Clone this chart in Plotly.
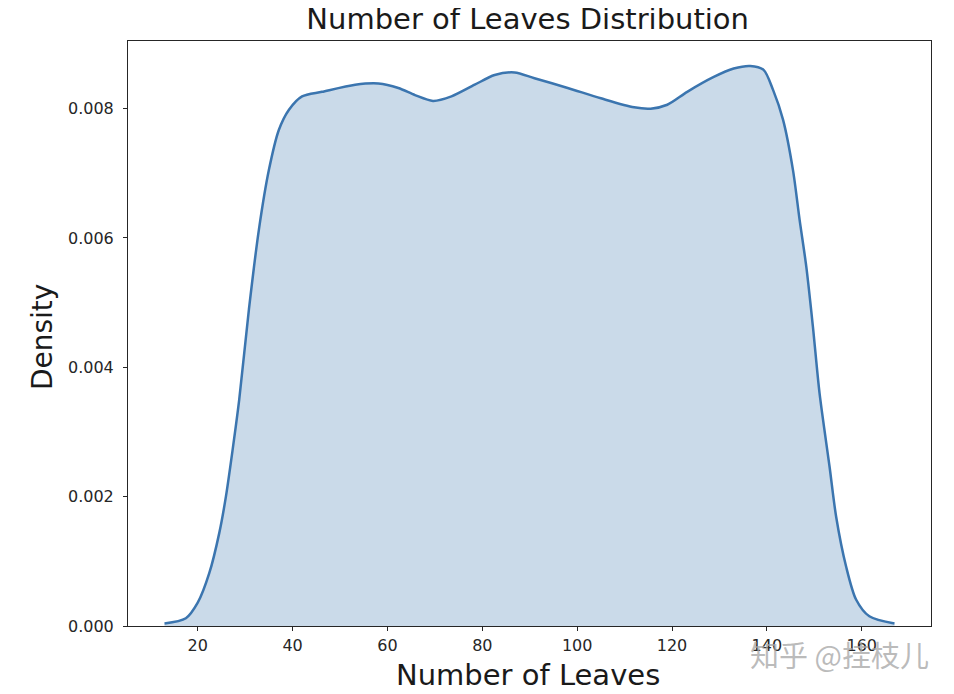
import plotly.graph_objects as go

# KDE curve
leaves = [13.0, 17.5, 20.0, 22.45, 24.55, 25.94, 27.35, 28.75, 30.8, 32.9, 35.0, 37.1, 39.2,
          42.0, 46.2, 53.2, 58.1, 62.3, 65.8, 69.6, 73.5, 78.4, 82.6, 86.8, 91.0, 98.0,
          105.0, 112.0, 115.5, 119.0, 123.2, 128.8, 133.0, 136.5, 139.3, 141.3, 143.4,
          145.5, 146.9, 148.3, 149.7, 151.1, 153.2, 154.6, 156.7, 158.8, 161.6, 166.9]
density = [0.00004, 0.00012, 0.00036, 0.00082, 0.00144, 0.0020, 0.00272, 0.0035, 0.0049,
           0.00613, 0.00705, 0.00767, 0.00798, 0.00819, 0.00826, 0.00837, 0.00839, 0.00832,
           0.00821, 0.00812, 0.00819, 0.00837, 0.00852, 0.00856, 0.00847, 0.00832, 0.00816,
           0.00802, 0.00800, 0.00806, 0.00826, 0.00849, 0.00862, 0.00866, 0.0086, 0.00829,
           0.00783, 0.00705, 0.00628, 0.00556, 0.00463, 0.0036, 0.00247, 0.00169, 0.00092,
           0.00041, 0.00015, 0.00004]

x_ticks = [20, 40, 60, 80, 100, 120, 140, 160]
y_ticks = [0.000, 0.002, 0.004, 0.006, 0.008]

fig = go.Figure()
fig.add_trace(go.Scatter(
    x=leaves, y=density, mode="lines",
    line=dict(color="#3b75af", width=2.5, shape="spline", smoothing=0.8),
    fill="tozeroy", fillcolor="rgba(59,117,175,0.27)", showlegend=False, hoverinfo="skip"))

axis_common = dict(showline=True, linecolor="#262626", linewidth=1, mirror=True,
                   ticks="outside", ticklen=4, tickwidth=1, tickcolor="#262626",
                   showgrid=False, zeroline=False, automargin=False,
                   tickfont=dict(family="DejaVu Sans", size=16, color="#262626"))

fig.update_layout(
    width=938, height=678,
    margin=dict(l=120, r=15, t=33, b=60, autoexpand=False),
    paper_bgcolor="white", plot_bgcolor="white",
    title=dict(text="Number of Leaves Distribution", x=0.554, xanchor="center",
               y=0.999, yanchor="top", pad=dict(t=0, b=0),
               font=dict(family="DejaVu Sans", size=29, color="#1a1a1a")),
    xaxis=dict(range=[5.3, 174.6], tickvals=x_ticks, ticktext=[str(v) for v in x_ticks],
               ticklabelstandoff=1, **axis_common),
    yaxis=dict(range=[0, 0.009046], tickvals=y_ticks, ticktext=[f"{v:.3f}" for v in y_ticks],
               ticklabelstandoff=6, **axis_common),
)

# axis titles
fig.add_annotation(text="Number of Leaves", xref="paper", yref="paper", x=0.498, y=-0.084,
                   xanchor="center", yanchor="middle", showarrow=False,
                   font=dict(family="DejaVu Sans", size=29, color="#1a1a1a"))
fig.add_annotation(text="Density", xref="paper", yref="paper", x=-0.107, y=0.494,
                   xanchor="center", yanchor="middle", textangle=-90, showarrow=False,
                   font=dict(family="DejaVu Sans", size=28, color="#1a1a1a"))

fig.add_annotation(text="知乎 @挂枝儿", xref="paper", yref="paper", x=1.0, y=-0.048,
                   xanchor="right", yanchor="middle", showarrow=False,
                   font=dict(family="Noto Sans CJK SC", size=29, color="rgba(165,165,165,0.75)"))

fig.write_html("out.html")
